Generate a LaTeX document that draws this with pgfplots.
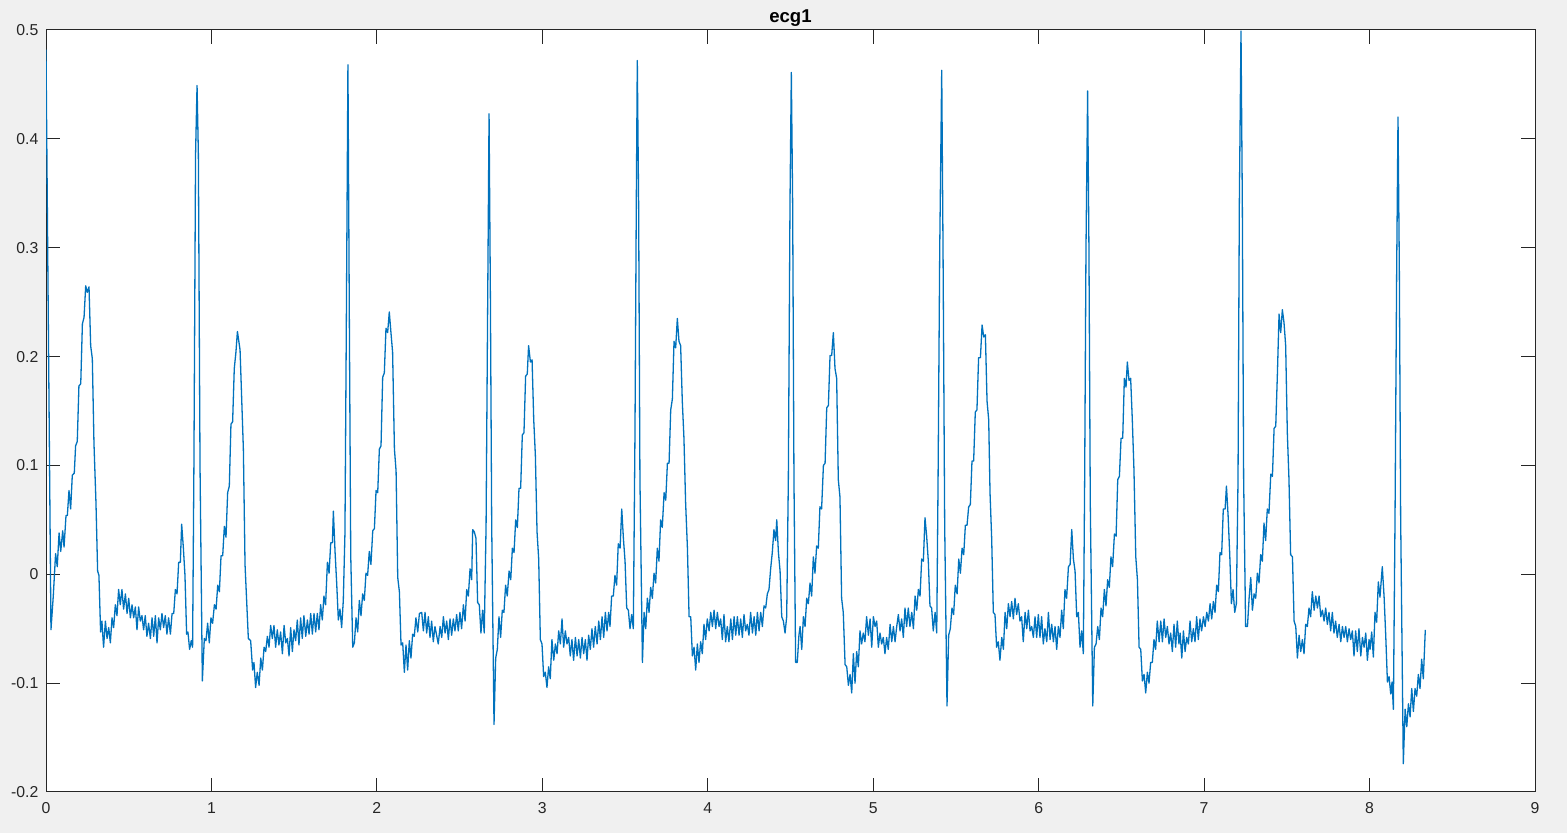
\documentclass[border=0pt]{standalone}
\usepackage{pgfplots}
\pgfplotsset{compat=1.18}
\usepackage{fontspec}
\setmainfont{Liberation Sans}
\definecolor{figbg}{RGB}{240,240,240}
\definecolor{axcol}{RGB}{38,38,38}
\definecolor{mblue}{RGB}{0,114,189}
\begin{document}
\begin{tikzpicture}
\fill[figbg] (0,0) rectangle (783.5pt,416.5pt);
\useasboundingbox (0,0) rectangle (783.5pt,416.5pt);
\begin{axis}[
  at={(23pt,20.5pt)}, anchor=south west,
  scale only axis, width=744.5pt, height=381pt,
  xmin=0, xmax=9, ymin=-0.2, ymax=0.5,
  xtick={0,1,2,3,4,5,6,7,8,9},
  xticklabels={0,1,2,3,4,5,6,7,8,9},
  ytick={-0.2,-0.1,0,0.1,0.2,0.3,0.4,0.5},
  yticklabels={-0.2,-0.1,0,0.1,0.2,0.3,0.4,0.5},
  axis background/.style={fill=white},
  axis line style={axcol, line width=0.5pt},
  every tick/.style={axcol, line width=0.5pt},
  major tick length=7pt,
  tick align=inside,
  ticklabel style={font=\fontsize{7.9}{9}\selectfont, text=axcol},
  xticklabel style={yshift=-1.8pt},
  yticklabel style={xshift=-0.3pt},
  /pgf/number format/assume math mode=true,
  title={ecg1},
  title style={font=\bfseries\fontsize{9.3}{10}\selectfont, text=black, yshift=-8pt},
]
\addplot[mblue, line width=0.65pt, line join=round] coordinates {
(0,0.482)(0.030,-0.051)(0.044,-0.020)(0.058,0.019)(0.068,0.007)(0.079,0.038)(0.089,0.021)(0.101,0.040)(0.109,0.025)(0.121,0.054)(0.129,0.054)(0.139,0.077)(0.149,0.060)(0.159,0.091)(0.171,0.093)(0.179,0.118)(0.189,0.122)(0.199,0.173)(0.210,0.175)(0.220,0.230)(0.230,0.236)(0.240,0.265)(0.250,0.259)(0.260,0.264)(0.270,0.210)(0.280,0.198)(0.290,0.120)(0.302,0.066)(0.312,0.003)(0.320,-0.001)(0.330,-0.053)(0.338,-0.043)(0.348,-0.067)(0.359,-0.043)(0.369,-0.059)(0.379,-0.049)(0.389,-0.063)(0.399,-0.040)(0.409,-0.049)(0.419,-0.028)(0.429,-0.038)(0.439,-0.014)(0.449,-0.028)(0.459,-0.014)(0.469,-0.032)(0.480,-0.018)(0.490,-0.036)(0.500,-0.022)(0.510,-0.040)(0.520,-0.028)(0.530,-0.040)(0.540,-0.030)(0.550,-0.051)(0.560,-0.030)(0.570,-0.043)(0.580,-0.038)(0.590,-0.051)(0.600,-0.038)(0.610,-0.057)(0.620,-0.045)(0.631,-0.059)(0.641,-0.040)(0.651,-0.057)(0.661,-0.038)(0.671,-0.063)(0.681,-0.040)(0.691,-0.051)(0.701,-0.036)(0.711,-0.049)(0.721,-0.038)(0.731,-0.055)(0.741,-0.040)(0.752,-0.055)(0.762,-0.036)(0.772,-0.036)(0.782,-0.014)(0.792,-0.018)(0.802,0.011)(0.812,0.011)(0.820,0.046)(0.830,0.025)(0.840,-0.001)(0.850,-0.055)(0.858,-0.053)(0.868,-0.069)(0.878,-0.061)(0.886,-0.067)(0.894,0.099)(0.904,0.386)(0.913,0.449)(0.921,0.386)(0.931,0.099)(0.945,-0.098)(0.957,-0.059)(0.967,-0.061)(0.977,-0.045)(0.987,-0.063)(0.997,-0.040)(1.007,-0.045)(1.018,-0.028)(1.028,-0.032)(1.038,-0.010)(1.048,-0.016)(1.058,0.017)(1.068,0.017)(1.078,0.044)(1.088,0.034)(1.098,0.075)(1.108,0.081)(1.118,0.138)(1.128,0.140)(1.138,0.189)(1.148,0.204)
(1.157,0.223)(1.173,0.206)(1.193,0.115)(1.203,0.009)(1.223,-0.059)(1.237,-0.061)(1.249,-0.088)(1.257,-0.081)(1.267,-0.104)(1.277,-0.090)(1.288,-0.102)(1.298,-0.077)(1.308,-0.088)(1.318,-0.067)(1.328,-0.071)(1.338,-0.057)(1.348,-0.067)(1.358,-0.047)(1.368,-0.059)(1.378,-0.047)(1.388,-0.067)(1.398,-0.051)(1.408,-0.065)(1.418,-0.053)(1.429,-0.073)(1.439,-0.047)(1.449,-0.063)(1.459,-0.059)(1.469,-0.075)(1.479,-0.049)(1.489,-0.071)(1.499,-0.051)(1.509,-0.061)(1.519,-0.042)(1.529,-0.065)(1.539,-0.040)(1.549,-0.059)(1.559,-0.038)(1.570,-0.057)(1.580,-0.042)(1.590,-0.055)(1.600,-0.036)(1.610,-0.055)(1.620,-0.036)(1.630,-0.053)(1.640,-0.036)(1.650,-0.051)(1.660,-0.028)(1.670,-0.042)(1.680,-0.020)(1.690,-0.028)(1.701,0.011)(1.711,0.001)(1.721,0.029)(1.731,0.029)(1.737,0.058)(1.747,0.021)(1.757,-0.008)(1.767,-0.042)(1.777,-0.032)(1.787,-0.049)(1.797,-0.024)(1.807,0.038)(1.815,0.222)(1.825,0.468)(1.834,0.222)(1.842,0.017)(1.854,-0.067)(1.864,-0.063)(1.874,-0.040)(1.884,-0.053)(1.894,-0.024)(1.904,-0.038)(1.914,-0.018)(1.924,-0.024)(1.934,0.001)(1.944,-0.001)(1.954,0.021)(1.964,0.009)(1.975,0.040)(1.985,0.042)(1.995,0.077)(2.005,0.075)(2.015,0.115)(2.025,0.118)(2.035,0.181)(2.045,0.185)(2.055,0.226)(2.065,0.222)(2.075,0.241)(2.085,0.222)(2.095,0.204)(2.106,0.115)(2.116,0.095)(2.126,-0.003)(2.136,-0.016)(2.146,-0.065)(2.156,-0.063)(2.166,-0.090)(2.176,-0.065)(2.186,-0.088)(2.196,-0.061)(2.206,-0.077)(2.216,-0.055)(2.226,-0.057)(2.236,-0.040)(2.247,-0.053)(2.257,-0.036)
(2.271,-0.035)(2.281,-0.052)(2.291,-0.035)(2.301,-0.054)(2.311,-0.039)(2.321,-0.058)(2.331,-0.043)(2.341,-0.062)(2.351,-0.048)(2.361,-0.056)(2.371,-0.064)(2.382,-0.048)(2.392,-0.058)(2.402,-0.039)(2.412,-0.054)(2.422,-0.043)(2.432,-0.060)(2.442,-0.041)(2.452,-0.056)(2.462,-0.041)(2.472,-0.052)(2.482,-0.037)(2.492,-0.052)(2.502,-0.035)(2.512,-0.050)(2.523,-0.028)(2.533,-0.043)(2.543,-0.014)(2.553,-0.020)(2.563,0.005)(2.573,-0.005)(2.579,0.041)(2.589,0.039)(2.599,0.033)(2.609,-0.026)(2.619,-0.028)(2.629,-0.054)(2.639,-0.033)(2.649,-0.054)(2.660,0.045)(2.670,0.256)(2.678,0.423)(2.686,0.256)(2.694,0.045)(2.708,-0.138)(2.718,-0.077)(2.728,-0.069)(2.738,-0.039)(2.748,-0.058)(2.758,-0.033)(2.768,-0.035)(2.778,-0.010)(2.788,-0.020)(2.799,0.003)(2.809,-0.005)(2.819,0.024)(2.829,0.020)(2.839,0.050)(2.849,0.043)(2.859,0.079)(2.869,0.079)(2.879,0.128)(2.889,0.130)(2.899,0.182)(2.909,0.184)(2.917,0.210)(2.928,0.195)(2.938,0.197)(2.948,0.142)(2.958,0.109)(2.968,0.039)(2.978,0.014)(2.988,-0.060)(2.998,-0.064)(3.008,-0.094)(3.018,-0.090)(3.028,-0.104)(3.038,-0.085)(3.048,-0.096)(3.058,-0.060)(3.069,-0.079)(3.079,-0.064)(3.089,-0.073)(3.099,-0.052)(3.109,-0.064)(3.119,-0.041)(3.129,-0.067)(3.139,-0.052)(3.149,-0.064)(3.159,-0.058)(3.169,-0.075)(3.179,-0.060)(3.189,-0.079)(3.200,-0.058)(3.210,-0.075)(3.220,-0.060)(3.230,-0.077)(3.240,-0.058)(3.250,-0.073)(3.260,-0.060)(3.270,-0.079)(3.280,-0.056)(3.290,-0.069)(3.300,-0.050)(3.310,-0.067)(3.320,-0.048)(3.331,-0.064)(3.341,-0.043)(3.351,-0.060)(3.361,-0.039)(3.371,-0.058)(3.381,-0.035)(3.391,-0.052)(3.401,-0.035)
(3.409,-0.048)(3.419,-0.020)(3.429,-0.020)(3.439,-0.001)(3.449,-0.010)(3.459,0.028)(3.470,0.024)(3.480,0.060)(3.490,0.033)(3.500,0.012)(3.510,-0.031)(3.520,-0.033)(3.530,-0.050)(3.540,-0.037)(3.550,-0.050)(3.560,0.130)(3.568,0.341)(3.574,0.472)(3.582,0.341)(3.590,0.087)(3.605,-0.081)(3.615,-0.035)(3.625,-0.050)(3.635,-0.022)(3.645,-0.035)(3.655,-0.012)(3.665,-0.022)(3.675,0.001)(3.685,-0.008)(3.695,0.024)(3.705,0.012)(3.715,0.050)(3.725,0.043)(3.736,0.075)(3.746,0.068)(3.756,0.102)(3.766,0.102)(3.776,0.151)(3.786,0.161)(3.796,0.214)(3.806,0.208)(3.816,0.235)(3.826,0.214)(3.836,0.210)(3.846,0.159)(3.856,0.125)(3.866,0.066)(3.877,0.024)(3.887,-0.039)(3.897,-0.039)(3.907,-0.075)(3.917,-0.067)(3.927,-0.088)(3.937,-0.064)(3.947,-0.081)(3.957,-0.062)(3.967,-0.073)(3.977,-0.046)(3.987,-0.060)(3.997,-0.041)(4.008,-0.052)(4.018,-0.035)(4.028,-0.048)(4.038,-0.033)(4.048,-0.050)(4.058,-0.035)(4.068,-0.048)(4.078,-0.041)(4.088,-0.060)(4.098,-0.037)(4.108,-0.062)(4.118,-0.048)(4.128,-0.062)(4.139,-0.041)(4.149,-0.060)(4.159,-0.039)(4.169,-0.056)(4.179,-0.039)(4.189,-0.056)(4.199,-0.041)(4.209,-0.058)(4.219,-0.037)(4.229,-0.052)(4.239,-0.046)(4.249,-0.056)(4.259,-0.035)(4.270,-0.054)(4.280,-0.039)(4.290,-0.056)(4.300,-0.035)(4.310,-0.052)(4.320,-0.035)(4.330,-0.048)(4.340,-0.029)(4.350,-0.031)(4.360,-0.018)(4.370,-0.014)(4.380,0.005)(4.390,0.020)(4.400,0.041)(4.410,0.031)(4.417,0.050)(4.427,0.020)(4.437,0.003)(4.447,-0.039)(4.457,-0.043)(4.467,-0.054)(4.477,-0.039)(4.487,0.087)(4.497,0.341)(4.505,0.461)(4.513,0.341)(4.521,0.087)(4.531,-0.081)(4.541,-0.081)(4.551,-0.056)
(4.558,-0.048)(4.568,-0.069)(4.578,-0.039)(4.588,-0.048)(4.598,-0.022)(4.608,-0.027)(4.618,-0.008)(4.628,-0.020)(4.638,0.016)(4.648,0.001)(4.658,0.026)(4.668,0.024)(4.678,0.062)(4.688,0.060)(4.699,0.100)(4.709,0.102)(4.719,0.153)(4.729,0.155)(4.739,0.201)(4.749,0.201)(4.759,0.222)(4.769,0.189)(4.779,0.180)(4.789,0.087)(4.799,0.071)(4.809,-0.022)(4.819,-0.035)(4.830,-0.083)(4.840,-0.085)(4.850,-0.102)(4.860,-0.092)(4.870,-0.109)(4.880,-0.073)(4.890,-0.100)(4.900,-0.071)(4.910,-0.085)(4.920,-0.052)(4.930,-0.064)(4.940,-0.054)(4.950,-0.062)(4.960,-0.039)(4.971,-0.056)(4.981,-0.041)(4.991,-0.067)(5.001,-0.039)(5.011,-0.048)(5.021,-0.043)(5.031,-0.067)(5.041,-0.054)(5.051,-0.064)(5.061,-0.058)(5.071,-0.073)(5.081,-0.058)(5.091,-0.069)(5.102,-0.046)(5.112,-0.062)(5.122,-0.048)(5.132,-0.062)(5.142,-0.048)(5.152,-0.037)(5.162,-0.052)(5.172,-0.041)(5.182,-0.058)(5.192,-0.031)(5.202,-0.048)(5.212,-0.031)(5.222,-0.048)(5.233,-0.035)(5.243,-0.050)(5.253,-0.020)(5.263,-0.033)(5.273,-0.014)(5.283,-0.020)(5.293,0.014)(5.303,0.012)(5.313,0.052)(5.323,0.035)(5.333,0.012)(5.343,-0.029)(5.353,-0.031)(5.363,-0.052)(5.374,-0.035)(5.384,-0.054)(5.392,0.087)(5.402,0.298)(5.414,0.463)(5.422,0.298)(5.432,0.045)(5.446,-0.121)(5.456,-0.056)(5.466,-0.050)(5.476,-0.031)(5.486,-0.037)(5.496,-0.010)(5.507,-0.018)(5.517,0.014)(5.527,0.001)(5.537,0.024)(5.547,0.018)(5.557,0.045)(5.567,0.045)(5.577,0.062)(5.587,0.064)(5.597,0.104)(5.607,0.104)(5.617,0.149)(5.627,0.151)(5.637,0.199)(5.648,0.199)(5.658,0.229)(5.668,0.218)(5.678,0.220)(5.688,0.159)(5.698,0.142)
(5.706,0.075)(5.716,0.033)(5.726,-0.035)(5.736,-0.037)(5.746,-0.067)(5.756,-0.062)(5.766,-0.079)(5.777,-0.058)(5.787,-0.069)(5.797,-0.035)(5.807,-0.050)(5.817,-0.027)(5.827,-0.039)(5.837,-0.025)(5.847,-0.041)(5.857,-0.022)(5.867,-0.037)(5.877,-0.027)(5.887,-0.043)(5.897,-0.039)(5.907,-0.062)(5.918,-0.035)(5.928,-0.050)(5.938,-0.033)(5.948,-0.052)(5.958,-0.048)(5.968,-0.058)(5.978,-0.039)(5.988,-0.058)(5.998,-0.037)(6.008,-0.058)(6.018,-0.039)(6.028,-0.064)(6.038,-0.050)(6.049,-0.062)(6.059,-0.035)(6.069,-0.060)(6.079,-0.046)(6.089,-0.062)(6.099,-0.048)(6.109,-0.069)(6.119,-0.048)(6.129,-0.058)(6.139,-0.033)(6.149,-0.050)(6.159,-0.014)(6.169,-0.022)(6.180,0.007)(6.190,0.009)(6.200,0.041)(6.210,0.014)(6.220,0.003)(6.230,-0.039)(6.240,-0.035)(6.250,-0.067)(6.260,-0.052)(6.270,-0.073)(6.278,0.087)(6.286,0.298)(6.296,0.444)(6.304,0.298)(6.312,0.066)(6.327,-0.121)(6.337,-0.067)(6.347,-0.064)(6.357,-0.048)(6.367,-0.060)(6.377,-0.031)(6.387,-0.039)(6.397,-0.014)(6.407,-0.029)(6.417,-0.005)(6.427,-0.012)(6.437,0.016)(6.447,0.007)(6.458,0.037)(6.468,0.035)(6.478,0.087)(6.488,0.090)(6.498,0.125)(6.508,0.125)(6.518,0.180)(6.528,0.172)(6.536,0.195)(6.546,0.178)(6.556,0.180)(6.566,0.142)(6.576,0.096)(6.587,0.016)(6.597,-0.005)(6.607,-0.067)(6.617,-0.069)(6.627,-0.098)(6.637,-0.092)(6.647,-0.109)(6.657,-0.090)(6.667,-0.100)(6.677,-0.081)(6.687,-0.081)(6.697,-0.060)(6.707,-0.069)(6.717,-0.043)(6.728,-0.062)(6.738,-0.043)(6.748,-0.062)(6.758,-0.041)(6.768,-0.058)(6.778,-0.048)(6.788,-0.064)(6.798,-0.054)(6.808,-0.071)(6.818,-0.046)(6.828,-0.067)(6.838,-0.043)(6.848,-0.064)
(6.855,-0.054)(6.865,-0.077)(6.875,-0.052)(6.885,-0.071)(6.895,-0.058)(6.905,-0.064)(6.915,-0.043)(6.925,-0.062)(6.935,-0.050)(6.945,-0.062)(6.955,-0.039)(6.965,-0.060)(6.975,-0.041)(6.985,-0.052)(6.996,-0.039)(7.006,-0.048)(7.016,-0.035)(7.026,-0.043)(7.036,-0.027)(7.046,-0.041)(7.056,-0.025)(7.066,-0.035)(7.076,-0.010)(7.086,-0.016)(7.096,0.020)(7.106,0.018)(7.116,0.060)(7.127,0.060)(7.135,0.081)(7.145,0.054)(7.155,0.018)(7.165,-0.027)(7.175,-0.014)(7.185,-0.035)(7.195,-0.027)(7.205,0.087)(7.213,0.341)(7.223,0.499)(7.231,0.341)(7.239,0.087)(7.251,-0.048)(7.262,-0.048)(7.272,-0.022)(7.282,-0.003)(7.292,-0.033)(7.302,-0.018)(7.312,-0.022)(7.322,0.001)(7.332,-0.008)(7.342,0.018)(7.352,0.012)(7.362,0.047)(7.372,0.031)(7.382,0.060)(7.392,0.056)(7.403,0.092)(7.413,0.090)(7.423,0.134)(7.433,0.136)(7.443,0.184)(7.453,0.239)(7.463,0.222)(7.473,0.243)(7.483,0.231)(7.493,0.210)(7.503,0.130)(7.513,0.087)(7.523,0.018)(7.534,0.016)(7.544,-0.043)(7.554,-0.048)(7.564,-0.077)(7.574,-0.056)(7.584,-0.071)(7.594,-0.060)(7.604,-0.073)(7.614,-0.046)(7.624,-0.048)(7.634,-0.031)(7.644,-0.039)(7.654,-0.016)(7.665,-0.033)(7.675,-0.020)(7.685,-0.031)(7.695,-0.020)(7.705,-0.039)(7.715,-0.033)(7.725,-0.043)(7.735,-0.031)(7.745,-0.046)(7.755,-0.035)(7.765,-0.052)(7.775,-0.035)(7.785,-0.054)(7.795,-0.043)(7.805,-0.058)(7.816,-0.046)(7.826,-0.062)(7.836,-0.048)(7.846,-0.058)(7.856,-0.048)(7.866,-0.062)(7.876,-0.050)(7.886,-0.060)(7.896,-0.052)(7.906,-0.075)(7.916,-0.052)(7.926,-0.071)(7.936,-0.050)(7.947,-0.075)(7.957,-0.058)(7.967,-0.067)(7.977,-0.054)(7.987,-0.079)(7.997,-0.060)
(8.003,-0.069)(8.013,-0.053)(8.023,-0.076)(8.033,-0.035)(8.043,-0.044)(8.053,-0.007)(8.063,-0.021)(8.077,0.007)(8.088,-0.021)(8.098,-0.057)(8.108,-0.099)(8.118,-0.094)(8.128,-0.110)(8.136,-0.099)(8.144,-0.124)(8.154,0.052)(8.164,0.281)(8.172,0.420)(8.180,0.281)(8.188,0.052)(8.204,-0.174)(8.215,-0.124)(8.225,-0.140)(8.235,-0.119)(8.245,-0.131)(8.255,-0.105)(8.265,-0.126)(8.275,-0.105)(8.285,-0.112)(8.295,-0.092)(8.305,-0.105)(8.315,-0.078)(8.325,-0.096)(8.337,-0.051)
};
\end{axis}
\end{tikzpicture}
\end{document}
